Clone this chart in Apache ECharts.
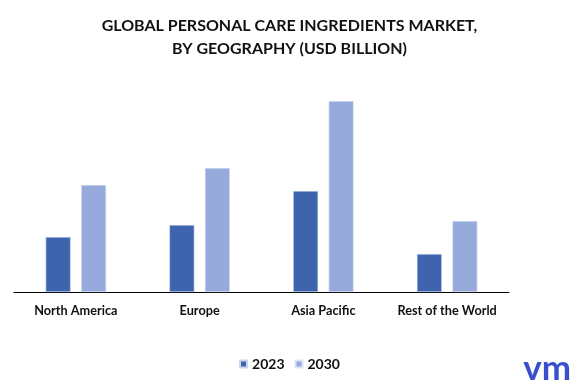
<!DOCTYPE html>
<html><head><meta charset="utf-8">
<script src="https://cdn.jsdelivr.net/npm/echarts@6/dist/echarts.min.js"></script>
<style>html,body{margin:0;padding:0;background:#fff}#c{width:579px;height:386px}</style>
</head><body><div id="c"></div>
<script>
const categories = ['North America', 'Europe', 'Asia Pacific', 'Rest of the World'];
const years = ['2023', '2030'];
const values2023 = [5.5, 6.7, 10.1, 3.8];
const values2030 = [10.7, 12.4, 19.1, 7.1];
const colors = ['#3D64AD', '#97AADC'];

const chart = echarts.init(document.getElementById('c'));
const font = 'Lato, "Open Sans", sans-serif';
chart.setOption({
  animation: false,
  title: {
    text: 'GLOBAL PERSONAL CARE INGREDIENTS MARKET,\nBY GEOGRAPHY (USD BILLION)',
    left: 'center', top: 9,
    textStyle: { fontFamily: font, fontWeight: 'bold', fontSize: 16, lineHeight: 23, color: '#111' }
  },
  legend: {
    data: years, bottom: 10, left: 'center',
    itemWidth: 7, itemHeight: 7, itemGap: 10, icon: 'rect',
    textStyle: { fontFamily: font, fontWeight: 'bold', fontSize: 14, color: '#111' }
  },
  grid: { left: 14, right: 70, top: 92, bottom: 94 },
  xAxis: {
    type: 'category', data: categories,
    axisLine: { lineStyle: { color: '#000', width: 1.2 } },
    axisTick: { show: false },
    axisLabel: { interval: 0, fontFamily: font, fontWeight: 'bold', fontSize: 12.7, color: '#111', margin: 12 }
  },
  yAxis: { type: 'value', min: 0, max: 20, show: false, splitLine: { show: false } },
  series: [
    { name: years[0], type: 'bar', data: values2023, barWidth: 25, barGap: '42%',
      itemStyle: { color: colors[0], borderColor: '#C9D5EE', borderWidth: 0.6 } },
    { name: years[1], type: 'bar', data: values2030, barWidth: 25,
      itemStyle: { color: colors[1], borderColor: '#DCE3F5', borderWidth: 0.6 } }
  ],
  graphic: [{
    type: 'text', right: 8, bottom: 0,
    style: { text: 'vm', fontFamily: 'Lato, sans-serif', fontSize: 35, fontWeight: 'bold', fill: '#3A4FCC' }
  }]
});
</script></body></html>
